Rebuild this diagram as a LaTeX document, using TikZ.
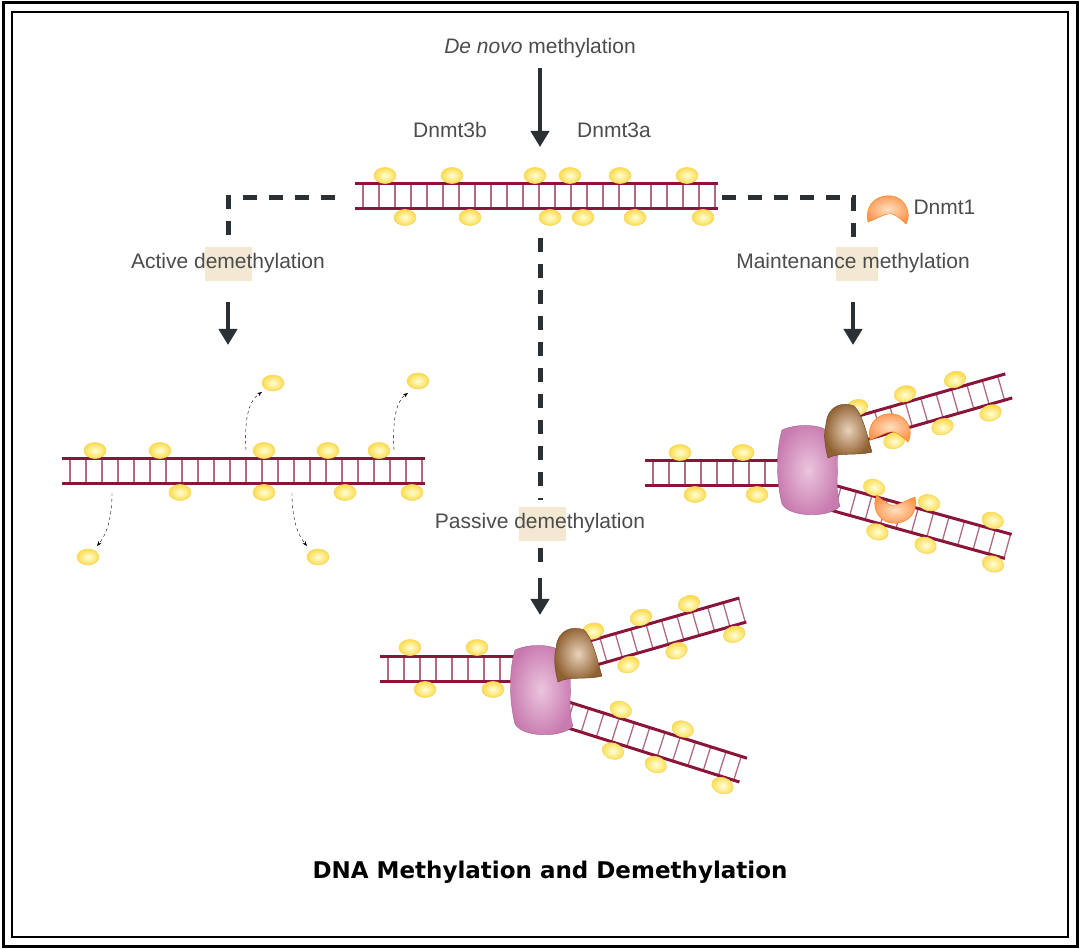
\documentclass[tikz,border=0pt]{standalone}
\usepackage{fontspec}
\setmainfont{Liberation Sans}
\newfontfamily\titlefont{DejaVu Sans}
\usetikzlibrary{arrows.meta}
\definecolor{strand}{HTML}{8A1538}
\definecolor{rung}{HTML}{B06A84}
\definecolor{arrowc}{HTML}{2B3035}
\definecolor{hl}{HTML}{F3E9D2}
\definecolor{mauve}{HTML}{C97BB0}
\definecolor{mauvelt}{HTML}{EBC5DD}
\tikzset{
  methyl/.style={draw=yellow!60!brown!70, line width=0.6pt, inner color=yellow!15, outer color=yellow!60!orange!70},
  big/.style={-{Triangle[length=16pt,width=18pt]}, line width=4pt, arrowc},
  dashedline/.style={arrowc, line width=5pt, dash pattern=on 14pt off 12pt},
  lab/.style={font=\fontsize{21}{24}\selectfont, text=black!70},
}
% DNA segment: x, y, angle, length, top methyl list, bottom methyl list
\newcommand\dnaseg[6]{%
  \begin{scope}[shift={(#1,#2)}, rotate=#3]
    \foreach \p in {8,24,...,#4} \draw[rung, line width=1.3pt] (\p,-12) -- (\p,12);
    \draw[strand, line width=3pt] (0,-12.5) -- (#4,-12.5) (0,12.5) -- (#4,12.5);
    \foreach \p in {#5} \shade[methyl] (\p,-21) ellipse (11 and 8);
    \foreach \p in {#6} \shade[methyl] (\p,21) ellipse (11 and 8);
  \end{scope}}
\newcommand\crescent[3]{%
  \begin{scope}[shift={(#1,#2)}, rotate=#3]
    \shade[inner color=orange!25, outer color=orange!80!red!70, draw=orange!70!brown]
      (-20,8) .. controls (-24,-12) and (-8,-20) .. (4,-18) .. controls (18,-16) and (24,0) .. (18,10)
      .. controls (12,4) and (4,-2) .. (0,0) .. controls (-8,2) and (-14,6) .. (-20,8) -- cycle;
  \end{scope}}
\newcommand\pinkblob[2]{%
  \shade[inner color=mauvelt, outer color=mauve, draw=mauve!80!black]
    (#1-28,#2-40) .. controls (#1-10,#2-48) and (#1+20,#2-46) .. (#1+26,#2-30)
    .. controls (#1+30,#2-5) and (#1+24,#2+20) .. (#1+30,#2+36)
    .. controls (#1+20,#2+48) and (#1-20,#2+48) .. (#1-28,#2+34)
    .. controls (#1-34,#2+10) and (#1-34,#2-20) .. (#1-28,#2-40) -- cycle;}
\newcommand\brownblob[2]{%
  \shade[inner color=brown!35, outer color=brown!75!black, draw=brown!50!black]
    (#1-22,#2-8) .. controls (#1-20,#2-28) and (#1-4,#2-30) .. (#1+6,#2-26)
    .. controls (#1+16,#2-16) and (#1+20,#2+8) .. (#1+24,#2+20)
    .. controls (#1+10,#2+24) and (#1-10,#2+20) .. (#1-20,#2+26)
    .. controls (#1-24,#2+10) and (#1-24,#2+2) .. (#1-22,#2-8) -- cycle;}
\begin{document}
\begin{tikzpicture}[x=1pt,y=-1pt]
\useasboundingbox (0,0) rectangle (1080,949);
\fill[white] (0,0) rectangle (1080,949);
\draw[line width=3pt] (3,3) rectangle (1077,946);
\draw[line width=2pt] (12,12) rectangle (1068,937);

% highlights
\fill[hl] (205,247) rectangle (252,281);
\fill[hl] (836,247) rectangle (878,281);
\fill[hl] (519,507) rectangle (566,541);

% labels
\node[lab] (denovo) at (540,48) {\textit{De novo} methylation};
\node[lab] (d3b) at (450,130) {Dnmt3b};
\node[lab] (d3a) at (614,130) {Dnmt3a};
\node[lab] (act) at (228,263) {Active demethylation};
\node[lab] (mnt) at (853,263) {Maintenance methylation};
\node[lab] (pas) at (540,523) {Passive demethylation};
\node[lab, anchor=west] (d1) at (910,207) {Dnmt1};
\node[font=\titlefont\bfseries\fontsize{23}{26}\selectfont] (title) at (550,872) {DNA Methylation and Demethylation};

% arrows
\coordinate (a0) at (540,68); \coordinate (a1) at (540,147);
\draw[big] (a0) -- (a1);
\coordinate (l0) at (335,198); \coordinate (l1) at (228,198); \coordinate (l2) at (228,240);
\draw[dashedline] (l0) -- (l1) -- (l2);
\coordinate (l3) at (228,302); \coordinate (l4) at (228,345);
\draw[big] (l3) -- (l4);
\coordinate (r0) at (722,198); \coordinate (r1) at (853,198); \coordinate (r2) at (853,240);
\draw[dashedline] (r0) -- (r1) -- (r2);
\coordinate (r3) at (853,302); \coordinate (r4) at (853,345);
\draw[big] (r3) -- (r4);
\coordinate (m0) at (540,238); \coordinate (m1) at (540,500);
\draw[dashedline] (m0) -- (m1);
\coordinate (m2) at (540,548); \coordinate (m3) at (540,574);
\draw[dashedline] (m2) -- (m3);
\coordinate (m4) at (540,578); \coordinate (m5) at (540,615);
\draw[big] (m4) -- (m5);

% top DNA
\dnaseg{355}{196.5}{0}{363}{30,97,180,215,265,332}{50,115,195,228,280,348}

% left DNA
\dnaseg{62}{471.5}{0}{363}{33,98,202,266,317}{118,202,283,350}
\shade[methyl] (273,383) ellipse (11 and 8);
\shade[methyl] (418,381) ellipse (11 and 8);
\shade[methyl] (88,557) ellipse (11 and 8);
\shade[methyl] (318,557) ellipse (11 and 8);
\draw[-{Stealth[length=5pt]}, dashed, thin] (246,450) .. controls (244,415) and (250,400) .. (262,392);
\draw[-{Stealth[length=5pt]}, dashed, thin] (394,450) .. controls (392,415) and (398,400) .. (408,393);
\draw[-{Stealth[length=5pt]}, dashed, thin] (112,493) .. controls (112,520) and (106,535) .. (97,546);
\draw[-{Stealth[length=5pt]}, dashed, thin] (292,493) .. controls (292,520) and (298,535) .. (307,546);

% middle fork
\dnaseg{380}{668.5}{0}{150}{30,97}{45,113}
\dnaseg{565}{661}{16}{185}{35,85,135}{60,110,170}
\dnaseg{562}{713}{-17.5}{190}{55,120}{60,105,175}
\pinkblob{543}{690}
\brownblob{578}{656}

% right fork
\dnaseg{645}{473.5}{0}{150}{35,98}{50,112}
\dnaseg{855}{430}{16}{160}{8,58,110}{35,85,135}
\dnaseg{830}{497}{-15.5}{185}{40,97,163}{55,105,175}
\pinkblob{810}{470}
\brownblob{848}{432}
\crescent{890}{432}{0}
\crescent{895}{505}{180}
\crescent{888}{214}{0}
\end{tikzpicture}
\end{document}
